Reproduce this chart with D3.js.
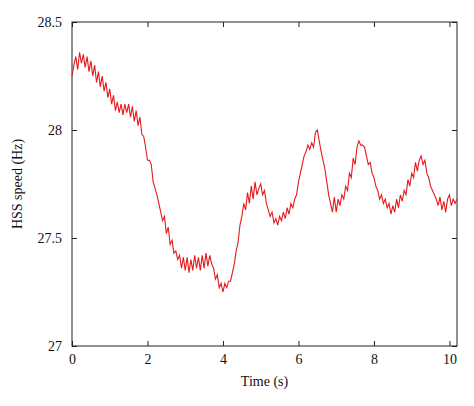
<!DOCTYPE html>
<html>
<head>
<meta charset="utf-8">
<script src="https://cdn.jsdelivr.net/npm/d3@7"></script>
<style>
body{margin:0;background:#fff;}
text{font-family:"Liberation Serif","DejaVu Serif",serif;font-size:14px;fill:#111;}
</style>
</head>
<body>
<div id="chart"></div>
<script>
// speed samples every 0.05 s
var dt = 0.05;
var speed = [
 28.25,28.30,28.34,28.28,28.36,28.31,28.35,28.29,28.34,28.27,28.32,28.25,28.30,28.22,28.27,28.20,28.25,28.18,28.22,28.15,
 28.19,28.12,28.16,28.09,28.13,28.08,28.12,28.07,28.12,28.08,28.12,28.06,28.11,28.04,28.09,28.02,28.06,27.98,27.97,27.92,
 27.86,27.86,27.84,27.76,27.73,27.70,27.66,27.62,27.58,27.60,27.52,27.55,27.47,27.49,27.43,27.44,27.40,27.42,27.36,27.41,
 27.35,27.41,27.34,27.40,27.35,27.42,27.36,27.41,27.35,27.42,27.36,27.43,27.37,27.42,27.38,27.36,27.31,27.33,27.27,27.29,
 27.25,27.29,27.27,27.30,27.30,27.34,27.38,27.44,27.48,27.56,27.60,27.66,27.63,27.71,27.66,27.74,27.68,27.76,27.70,27.73,
 27.75,27.70,27.72,27.66,27.63,27.60,27.62,27.57,27.59,27.56,27.60,27.58,27.62,27.59,27.64,27.61,27.66,27.64,27.68,27.70,
 27.76,27.80,27.84,27.88,27.90,27.93,27.91,27.94,27.92,27.99,28.00,27.95,27.90,27.86,27.82,27.76,27.70,27.66,27.62,27.69,
 27.62,27.68,27.65,27.70,27.68,27.74,27.72,27.80,27.78,27.87,27.84,27.92,27.95,27.93,27.93,27.92,27.88,27.84,27.85,27.80,
 27.78,27.74,27.72,27.68,27.70,27.66,27.68,27.64,27.66,27.61,27.65,27.62,27.68,27.64,27.70,27.67,27.72,27.70,27.77,27.74,
 27.80,27.78,27.85,27.81,27.86,27.88,27.84,27.86,27.80,27.78,27.74,27.72,27.70,27.68,27.65,27.69,27.63,27.67,27.62,27.68,
 27.70,27.65,27.68,27.66,27.68
];
var xTicks = [0, 2, 4, 6, 8, 10];
var yTicks = [27, 27.5, 28, 28.5];
var yTickLabels = ["27", "27.5", "28", "28.5"];

var W = 474, H = 406;
var mLeft = 72, mRight = 457, mTop = 22, mBottom = 346;

var svg = d3.select("#chart").append("svg").attr("width", W).attr("height", H);

var x = d3.scaleLinear().domain([0, 10.2]).range([mLeft, mRight]);
var y = d3.scaleLinear().domain([27, 28.5]).range([mBottom, mTop]);

// inward ticks on all four sides
svg.append("g").attr("transform", "translate(0," + mBottom + ")")
   .call(d3.axisBottom(x).tickValues(xTicks).tickSizeInner(-5).tickSizeOuter(0).tickPadding(8).tickFormat(d3.format("d")));
svg.append("g").attr("transform", "translate(0," + mTop + ")")
   .call(d3.axisTop(x).tickValues(xTicks).tickSizeInner(-5).tickSizeOuter(0).tickFormat(""));
svg.append("g").attr("transform", "translate(" + mLeft + ",0)")
   .call(d3.axisLeft(y).tickValues(yTicks).tickSizeInner(-5).tickSizeOuter(0).tickPadding(10)
   .tickFormat(function(d, i){ return yTickLabels[i]; }));
svg.append("g").attr("transform", "translate(" + mRight + ",0)")
   .call(d3.axisRight(y).tickValues(yTicks).tickSizeInner(-5).tickSizeOuter(0).tickFormat(""));
svg.selectAll(".domain").remove();
svg.selectAll(".tick line").attr("stroke", "#222");
svg.selectAll(".tick text").style("font-family", "Liberation Serif").style("font-size", "14px").attr("fill", "#111");

svg.append("rect").attr("x", mLeft).attr("y", mTop).attr("width", mRight - mLeft).attr("height", mBottom - mTop)
   .attr("fill", "none").attr("stroke", "#222").attr("stroke-width", 1);

var line = d3.line().x(function(d, i){ return x(i * dt); }).y(function(d){ return y(d); });
svg.append("path").datum(speed).attr("d", line)
   .attr("fill", "none").attr("stroke", "#e41a1c").attr("stroke-width", 1.1);

svg.append("text").attr("x", (mLeft + mRight) / 2).attr("y", 386).attr("text-anchor", "middle").text("Time (s)");
svg.append("text").attr("transform", "translate(22," + ((mTop + mBottom) / 2) + ") rotate(-90)")
   .attr("text-anchor", "middle").text("HSS speed (Hz)");
</script>
</body>
</html>
